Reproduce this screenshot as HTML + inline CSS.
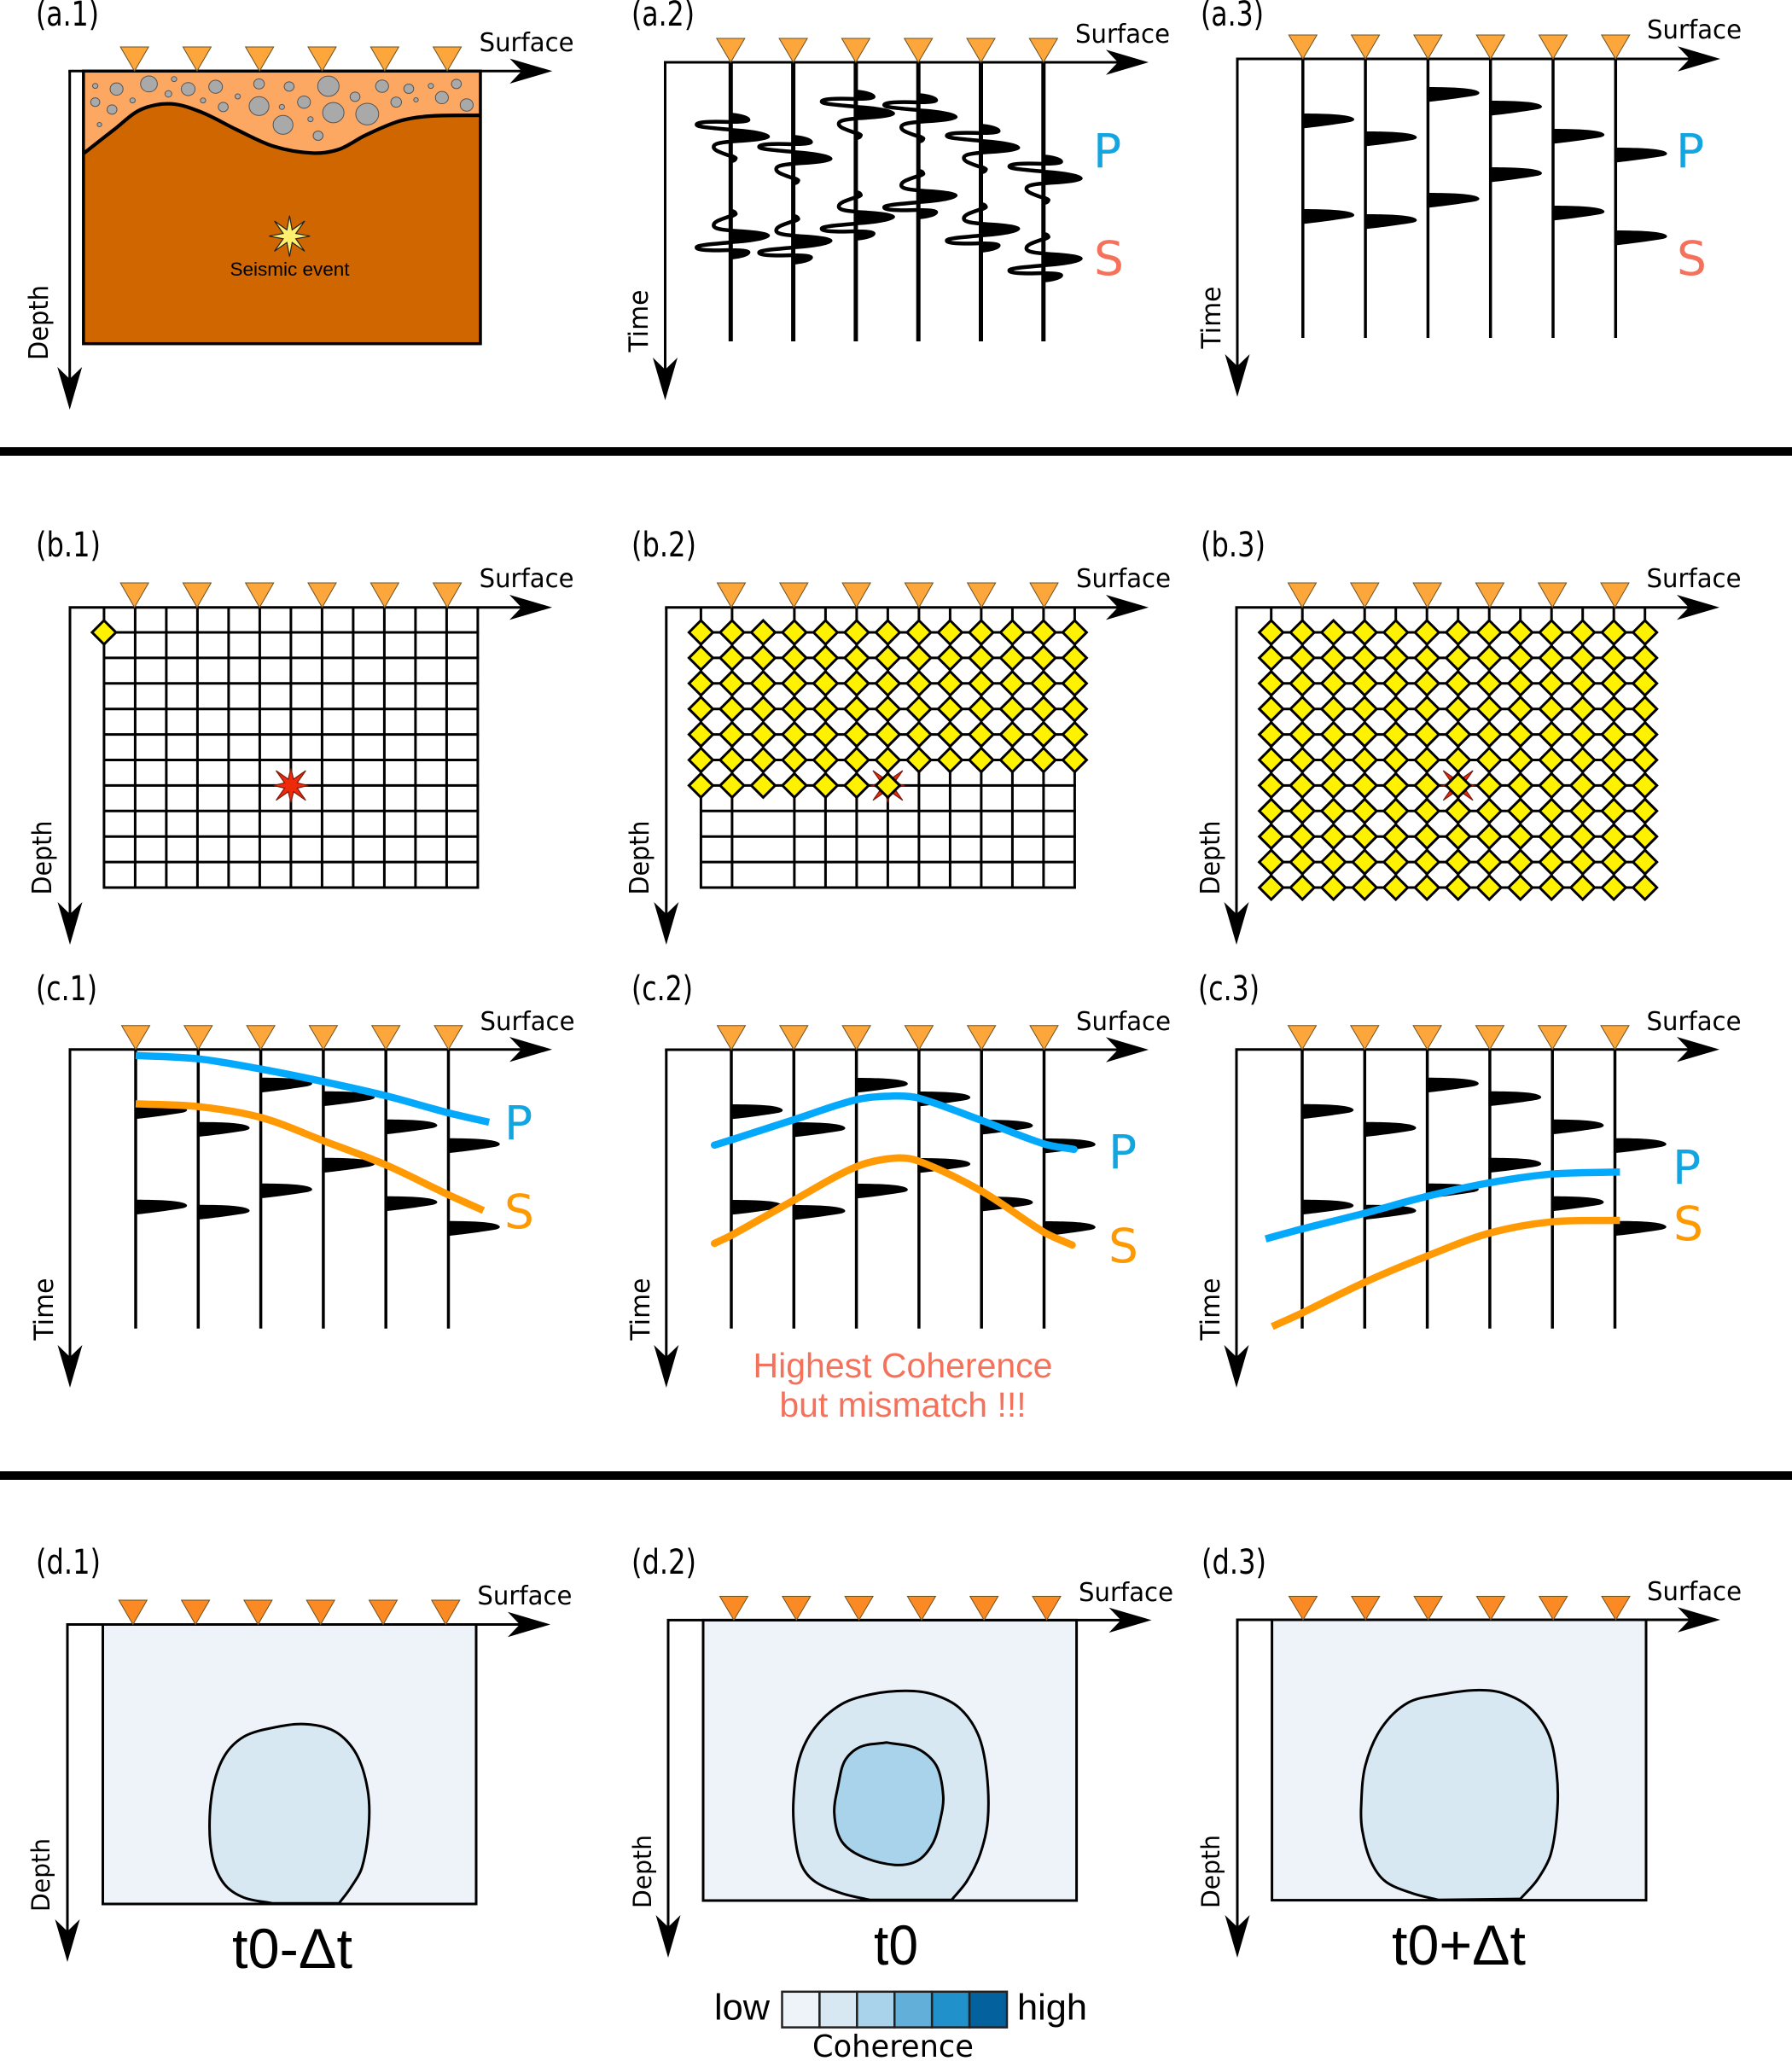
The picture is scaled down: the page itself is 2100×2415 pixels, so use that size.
<!DOCTYPE html>
<html lang="en">
<head>
<meta charset="utf-8">
<title>Seismic event location by coherence migration</title>
<style>
html,body{margin:0;padding:0;background:#fff;}
svg{display:block;}
.dv{font-family:"DejaVu Sans","Liberation Sans",sans-serif;fill:#000;}
.ls{font-family:"Liberation Sans",sans-serif;fill:#000;}
</style>
</head>
<body>
<svg id="figure" xmlns="http://www.w3.org/2000/svg" width="2100" height="2415" viewBox="0 0 2100 2415">
<rect x="0" y="0" width="2100" height="2415" fill="#ffffff"/>
<rect x="0" y="524" width="2100" height="10" fill="#000"/>
<rect x="0" y="1724" width="2100" height="10" fill="#000"/>
<g id="marks"></g>
<g>
<text class="dv" x="42" y="30" font-size="40" textLength="74" lengthAdjust="spacingAndGlyphs">(a.1)</text>
<text class="dv" x="740" y="30" font-size="40" textLength="74" lengthAdjust="spacingAndGlyphs">(a.2)</text>
<text class="dv" x="1407" y="30" font-size="40" textLength="74" lengthAdjust="spacingAndGlyphs">(a.3)</text>
<text class="dv" x="42" y="652" font-size="40" textLength="76" lengthAdjust="spacingAndGlyphs">(b.1)</text>
<text class="dv" x="740" y="652" font-size="40" textLength="76" lengthAdjust="spacingAndGlyphs">(b.2)</text>
<text class="dv" x="1407" y="652" font-size="40" textLength="76" lengthAdjust="spacingAndGlyphs">(b.3)</text>
<text class="dv" x="42" y="1172" font-size="40" textLength="72" lengthAdjust="spacingAndGlyphs">(c.1)</text>
<text class="dv" x="740" y="1172" font-size="40" textLength="72" lengthAdjust="spacingAndGlyphs">(c.2)</text>
<text class="dv" x="1404" y="1172" font-size="40" textLength="72" lengthAdjust="spacingAndGlyphs">(c.3)</text>
<text class="dv" x="42" y="1844" font-size="40" textLength="76" lengthAdjust="spacingAndGlyphs">(d.1)</text>
<text class="dv" x="740" y="1844" font-size="40" textLength="76" lengthAdjust="spacingAndGlyphs">(d.2)</text>
<text class="dv" x="1408" y="1844" font-size="40" textLength="76" lengthAdjust="spacingAndGlyphs">(d.3)</text>
</g>
<g>
<text class="dv" x="561.6" y="60" font-size="30" textLength="111" lengthAdjust="spacingAndGlyphs">Surface</text>
<text class="dv" x="1260" y="50" font-size="30" textLength="111" lengthAdjust="spacingAndGlyphs">Surface</text>
<text class="dv" x="1930" y="45" font-size="30" textLength="111" lengthAdjust="spacingAndGlyphs">Surface</text>
<text class="dv" x="561.6" y="688" font-size="30" textLength="111" lengthAdjust="spacingAndGlyphs">Surface</text>
<text class="dv" x="1261" y="688" font-size="30" textLength="111" lengthAdjust="spacingAndGlyphs">Surface</text>
<text class="dv" x="1929.5" y="688" font-size="30" textLength="111" lengthAdjust="spacingAndGlyphs">Surface</text>
<text class="dv" x="562.5" y="1207" font-size="30" textLength="111" lengthAdjust="spacingAndGlyphs">Surface</text>
<text class="dv" x="1261" y="1207" font-size="30" textLength="111" lengthAdjust="spacingAndGlyphs">Surface</text>
<text class="dv" x="1929.5" y="1207" font-size="30" textLength="111" lengthAdjust="spacingAndGlyphs">Surface</text>
<text class="dv" x="559.4" y="1880" font-size="30" textLength="111" lengthAdjust="spacingAndGlyphs">Surface</text>
<text class="dv" x="1264" y="1876" font-size="30" textLength="111" lengthAdjust="spacingAndGlyphs">Surface</text>
<text class="dv" x="1930" y="1875" font-size="30" textLength="111" lengthAdjust="spacingAndGlyphs">Surface</text>
</g>
<g text-anchor="middle">
<text class="dv" transform="translate(56,378) rotate(-90)" font-size="31" textLength="88" lengthAdjust="spacingAndGlyphs">Depth</text>
<text class="dv" transform="translate(759,376) rotate(-90)" font-size="31" textLength="73" lengthAdjust="spacingAndGlyphs">Time</text>
<text class="dv" transform="translate(1430,372) rotate(-90)" font-size="31" textLength="73" lengthAdjust="spacingAndGlyphs">Time</text>
<text class="dv" transform="translate(60,1005) rotate(-90)" font-size="31" textLength="87" lengthAdjust="spacingAndGlyphs">Depth</text>
<text class="dv" transform="translate(760,1005) rotate(-90)" font-size="31" textLength="87" lengthAdjust="spacingAndGlyphs">Depth</text>
<text class="dv" transform="translate(1429,1005) rotate(-90)" font-size="31" textLength="87" lengthAdjust="spacingAndGlyphs">Depth</text>
<text class="dv" transform="translate(62,1534) rotate(-90)" font-size="31" textLength="73" lengthAdjust="spacingAndGlyphs">Time</text>
<text class="dv" transform="translate(761,1534) rotate(-90)" font-size="31" textLength="73" lengthAdjust="spacingAndGlyphs">Time</text>
<text class="dv" transform="translate(1429,1534) rotate(-90)" font-size="31" textLength="73" lengthAdjust="spacingAndGlyphs">Time</text>
<text class="dv" transform="translate(58,2197) rotate(-90)" font-size="29" textLength="86" lengthAdjust="spacingAndGlyphs">Depth</text>
<text class="dv" transform="translate(763,2193) rotate(-90)" font-size="29" textLength="86" lengthAdjust="spacingAndGlyphs">Depth</text>
<text class="dv" transform="translate(1429,2193) rotate(-90)" font-size="29" textLength="86" lengthAdjust="spacingAndGlyphs">Depth</text>
</g>
<g>
<text class="dv" x="1281" y="196" font-size="55" style="fill:#12a5e0">P</text>
<text class="dv" x="1282" y="322" font-size="55" style="fill:#f4725b">S</text>
<text class="dv" x="1964" y="196" font-size="55" style="fill:#12a5e0">P</text>
<text class="dv" x="1965" y="322" font-size="55" style="fill:#f4725b">S</text>
<text class="dv" x="591" y="1335" font-size="55" style="fill:#12a5e0">P</text>
<text class="dv" x="591" y="1439" font-size="55" style="fill:#ff9900">S</text>
<text class="dv" x="1299" y="1369" font-size="55" style="fill:#12a5e0">P</text>
<text class="dv" x="1299" y="1479" font-size="55" style="fill:#ff9900">S</text>
<text class="dv" x="1960" y="1387" font-size="55" style="fill:#12a5e0">P</text>
<text class="dv" x="1961" y="1453" font-size="55" style="fill:#ff9900">S</text>
</g>
<text class="ls" x="339.5" y="323" font-size="22.5" text-anchor="middle">Seismic event</text>
<g text-anchor="middle">
<text class="ls" x="1058" y="1614" font-size="41" style="fill:#f4725b">Highest Coherence</text>
<text class="ls" x="1058" y="1660" font-size="41" style="fill:#f4725b">but mismatch !!!</text>
</g>
<g text-anchor="middle">
<text class="ls" x="342.5" y="2306" font-size="66" textLength="141" lengthAdjust="spacingAndGlyphs">t0-Δt</text>
<text class="ls" x="1050" y="2302" font-size="66" textLength="52" lengthAdjust="spacingAndGlyphs">t0</text>
<text class="ls" x="1709.5" y="2302" font-size="66" textLength="157" lengthAdjust="spacingAndGlyphs">t0+Δt</text>
</g>
<g>
<text class="ls" x="837" y="2366.5" font-size="43" textLength="65" lengthAdjust="spacingAndGlyphs">low</text>
<text class="ls" x="1192" y="2366.5" font-size="43" textLength="82" lengthAdjust="spacingAndGlyphs">high</text>
<text class="dv" x="952" y="2410" font-size="36" textLength="189" lengthAdjust="spacingAndGlyphs">Coherence</text>
</g>
</svg>
<script>
/* ---------- data ---------- */
const pArrival = [0.71, 0.92, 0.40, 0.56, 0.89, 1.11];
const sArrival = [1.83, 1.89, 1.64, 1.34, 1.79, 2.08];
const pArrivalWiggle = [0.87, 1.13, 0.60, 0.64, 1.00, 1.36];
const sArrivalWiggle = [2.03, 2.09, 1.81, 1.56, 1.95, 2.30];

const c1PTrace = [0, 1, 2, 3, 4, 5, 5.65];
const c1PTime = [0.07, 0.11, 0.23, 0.377, 0.543, 0.743, 0.853];
const c1STrace = [0, 1, 2, 3, 4, 5, 5.56];
const c1STime = [0.637, 0.67, 0.797, 1.07, 1.353, 1.703, 1.887];

const c2PTrace = [-0.27, 0, 1, 2, 2.6, 3, 4, 5, 5.48];
const c2PTime = [1.118, 1.057, 0.82, 0.586, 0.543, 0.568, 0.829, 1.104, 1.168];
const c2STrace = [-0.27, 0, 1, 2, 2.6, 3, 4, 5, 5.45];
const c2STime = [2.27, 2.175, 1.764, 1.371, 1.271, 1.307, 1.657, 2.139, 2.289];

const c3PTrace = [-0.585, 0, 0.994, 2, 2.99, 3.99, 4.99, 5.08];
const c3PTime = [2.22, 2.103, 1.92, 1.72, 1.563, 1.46, 1.437, 1.437];
const c3STrace = [-0.48, 0, 0.994, 2, 2.99, 3.99, 4.99, 5.08];
const c3STime = [3.247, 3.087, 2.73, 2.42, 2.153, 2.02, 2.003, 2.003];

/* schematic outlines, in picture units (distance, depth) */
const layerDistance = [219, 300, 370, 450, 530, 620, 720, 820, 890, 960, 1050, 1130, 1261];
const layerDepth = [540, 455, 385, 365, 395, 455, 515, 538, 525, 475, 425, 408, 405];

const stoneDistance = [250,306,391,457,442,494,566,680,759,862,1003,1073,1131,1198,250,294,348,533,624,586,680,740,798,932,1040,1092,1160,1225,261,743,815,875,964,835];
const stoneDepth = [302,313,295,278,330,313,305,295,304,303,303,312,302,295,359,385,353,353,339,376,373,376,359,340,359,351,343,369,438,439,419,396,401,477];
const stoneSize = [7,17,22,7,9,18,18,14,13,28,17,13,7,13,12,13,7,7,7,13,26,7,17,13,14,6,17,17,6,26,7,28,30,13];

const d1Distance = [715,640,590,560,550,560,590,640,710,800,880,935,965,968,950,920,890];
const d1Depth = [1105,1088,1050,980,880,760,670,615,590,578,600,665,770,880,1000,1060,1105];
const d2OuterDistance = [715,640,570,535,518,515,530,570,640,720,810,880,950,1000,1022,1025,1005,970,930];
const d2OuterDepth = [1095,1075,1040,990,900,800,680,590,520,490,480,490,530,610,720,860,960,1040,1095];
const d2InnerDistance = [760,690,650,632,622,640,690,780,840,880,900,908,890,840,760];
const d2InnerDepth = [632,645,685,760,840,920,965,992,980,930,860,790,700,650,632];
const d3Distance = [640,570,500,462,440,437,448,490,560,650,740,810,880,930,950,952,935,900,855];
const d3Depth = [1095,1075,1040,980,890,820,700,590,515,490,478,487,530,610,720,830,960,1035,1092];

const coherenceClasses = ['#eef3fa', '#d8e8f3', '#a8d3ea', '#62b0d9', '#2191cb', '#03619e'];

/* ---------- helpers ---------- */
const NS = 'http://www.w3.org/2000/svg';
const root = document.getElementById('marks');
function add(tag, attrs, parent) {
  const node = document.createElementNS(NS, tag);
  for (const k in attrs) node.setAttribute(k, attrs[k]);
  (parent || root).appendChild(node);
  return node;
}
/* chord-length parametrised cubic spline through the points */
function smooth(xs, ys) {
  const n = xs.length, t = [0];
  for (let i = 1; i < n; i++) t.push(t[i - 1] + Math.hypot(xs[i] - xs[i - 1], ys[i] - ys[i - 1]));
  const mx = [], my = [];
  for (let i = 0; i < n; i++) {
    const a = Math.max(i - 1, 0), b = Math.min(i + 1, n - 1);
    mx.push((xs[b] - xs[a]) / (t[b] - t[a]));
    my.push((ys[b] - ys[a]) / (t[b] - t[a]));
  }
  let d = 'M' + xs[0].toFixed(2) + ' ' + ys[0].toFixed(2);
  for (let i = 0; i < n - 1; i++) {
    const h = (t[i + 1] - t[i]) / 3;
    d += 'C' + (xs[i] + mx[i] * h).toFixed(2) + ' ' + (ys[i] + my[i] * h).toFixed(2) + ' ' +
         (xs[i + 1] - mx[i + 1] * h).toFixed(2) + ' ' + (ys[i + 1] - my[i + 1] * h).toFixed(2) + ' ' +
         xs[i + 1].toFixed(2) + ' ' + ys[i + 1].toFixed(2);
  }
  return d;
}
const TRACE_GAP = 73.3, TIME_SCALE = 100;
const xOfTrace = (p, i) => p.triX + i * TRACE_GAP;
const yOfTime = (p, t) => p.oy + t * TIME_SCALE;

function axes(p) {
  const g = add('g', {});
  
  
  const xl = add('line', {x1: p.ox - 1.5, y1: p.oy, x2: p.xtip - 25, y2: p.oy, stroke: '#000', 'stroke-width': 3}, g);
  
  
  const yl = add('line', {x1: p.ox, y1: p.oy, x2: p.ox, y2: p.ytip - 25, stroke: '#000', 'stroke-width': 3}, g);
  
  
  const xa = add('polygon', {points: [p.xtip, p.oy, p.xtip - 50, p.oy - 14.7, p.xtip - 36, p.oy, p.xtip - 50, p.oy + 14.7].join(' '), fill: '#000'}, g);
  
  
  const ya = add('polygon', {points: [p.ox, p.ytip, p.ox - 14.5, p.ytip - 50, p.ox, p.ytip - 36, p.ox + 14.5, p.ytip - 50].join(' '), fill: '#000'}, g);
  
  
}
function receivers(p) {
  for (let i = 0; i < 6; i++) {
    const x = xOfTrace(p, i);
    const t = add('polygon', {points: [x - 16.5, p.triTop, x + 16.5, p.triTop, x, p.oy].join(' '), fill: p.triFill, stroke: '#6b5020', 'stroke-width': 1});
    
    
  }
}
function traceLines(p, width) {
  for (let i = 0; i < 6; i++) {
    const x = xOfTrace(p, i);
    const l = add('line', {x1: x, y1: p.oy, x2: x, y2: p.traceEnd, stroke: '#000', 'stroke-width': width});
    
    
  }
}
function wavelets(p, arrivals, phase) {
  arrivals.forEach((t, i) => {
    const x = xOfTrace(p, i), y = yOfTime(p, t);
    const w = add('path', {d: 'M-1.5 -7C20 -7 45 -6.5 55 -3.5C62 -1.5 62 1.5 55 3C40 5.5 15 9 -1.5 10.5Z', fill: '#000', transform: 'translate(' + x + ' ' + y + ')'});
    
    
  });
}
function wiggles(p, arrivals, sign, phase) {
  arrivals.forEach((t, i) => {
    const g = add('g', {transform: 'translate(' + xOfTrace(p, i) + ' ' + yOfTime(p, t) + ') scale(1 ' + sign + ')'});
    
    
    const f = add('path', {d: 'M0 -28C12 -27 24 -24 23 -19C22 -15 10 -15 0 -15ZM0 -10C25 -8.5 46 -5 46 0C46 5 25 6.5 0 8ZM0 20C6 22 9 24 8 26C7 30 3 31 0 31Z', fill: '#000'}, g);
    
    
    const s = add('path', {d: 'M0 -17C-25 -18 -40 -17 -40 -14C-40 -11 -20 -10 0 -8M0 6C-15 7 -20 9 -20 12C-20 17 -10 19 0 23', fill: 'none', stroke: '#000', 'stroke-width': 4.5}, g);
    
    
  });
}
function moveout(p, traces, times, color, cap, phase) {
  const c = add('path', {d: smooth(traces.map(v => xOfTrace(p, v)), times.map(v => yOfTime(p, v))), fill: 'none', stroke: color, 'stroke-width': 8.5, 'stroke-linecap': cap});
  
  
}
function star(cx, cy, rCard, rDiag, rIn, fill, stroke, name) {
  const pts = [];
  for (let i = 0; i < 16; i++) {
    const a = i * Math.PI / 8;
    const r = i % 2 ? rIn : (i % 4 === 0 ? rCard : rDiag);
    pts.push((cx + r * Math.cos(a)).toFixed(1), (cy + r * Math.sin(a)).toFixed(1));
  }
  const s = add('polygon', {points: pts.join(' '), fill: fill, stroke: stroke, 'stroke-width': 1.2});
  
  
}

/* ---------- panel layout ---------- */
const a1 = {id: 'a1', ox: 81.7, oy: 83.3, xtip: 647.3, ytip: 480, triX: 157.6, triTop: 55, triFill: '#fca63c'};
const a2 = {id: 'a2', ox: 779.5, oy: 73, xtip: 1346, ytip: 469, triX: 856.3, triTop: 45, triFill: '#fca63c', traceEnd: 400};
const a3 = {id: 'a3', ox: 1450, oy: 69, xtip: 2016, ytip: 465, triX: 1526.8, triTop: 41, triFill: '#fca63c', traceEnd: 396};
const b1 = {id: 'b1', ox: 82, oy: 711.7, xtip: 647, ytip: 1107, triX: 157.6, triTop: 683, triFill: '#fca63c', gridX: 121.9};
const b2 = {id: 'b2', ox: 780.8, oy: 711.7, xtip: 1346, ytip: 1107, triX: 857, triTop: 683, triFill: '#fca63c', gridX: 821.4};
const b3 = {id: 'b3', ox: 1449, oy: 711.7, xtip: 2015, ytip: 1107, triX: 1526, triTop: 683, triFill: '#fca63c', gridX: 1489.7};
const c1 = {id: 'c1', ox: 82, oy: 1229.7, xtip: 647, ytip: 1626, triX: 159, triTop: 1201.7, triFill: '#fca63c', traceEnd: 1556.7};
const c2 = {id: 'c2', ox: 780.8, oy: 1230, xtip: 1346, ytip: 1626, triX: 857, triTop: 1201.7, triFill: '#fca63c', traceEnd: 1556.7};
const c3 = {id: 'c3', ox: 1449, oy: 1229.7, xtip: 2015, ytip: 1626, triX: 1526, triTop: 1201.7, triFill: '#fca63c', traceEnd: 1556.7};
const d1 = {id: 'd1', ox: 79, oy: 1903.5, xtip: 645, ytip: 2299, triX: 155.8, triTop: 1875, triFill: '#fb8a24', boxL: 120.5, boxR: 558, boxB: 2231, crop: 0};
const d2 = {id: 'd2', ox: 783, oy: 1898.4, xtip: 1349.5, ytip: 2294, triX: 860, triTop: 1870.5, triFill: '#fb8a24', boxL: 824, boxR: 1261.6, boxB: 2227, crop: 700};
const d3 = {id: 'd3', ox: 1450, oy: 1898, xtip: 2016, ytip: 2294, triX: 1527, triTop: 1870.5, triFill: '#fb8a24', boxL: 1490.6, boxR: 1929, boxB: 2226.6, crop: 1400};

/* ---------- a.1 geology ---------- */
const xGeo = v => v / 2.24, yGeo = v => v / 3;
const boxL = 97.8, boxR = 563, boxT = 83.3, boxB = 402.7;
const topLayer = add('rect', {x: boxL, y: boxT, width: boxR - boxL, height: boxB - boxT, fill: '#fda862'});


stoneDistance.forEach((v, i) => {
  const rock = add('ellipse', {cx: xGeo(v), cy: yGeo(stoneDepth[i]), rx: stoneSize[i] / 2.24, ry: stoneSize[i] / 2.24 * 0.95, fill: '#a9a9a9', stroke: '#555', 'stroke-width': 1});
  
  
});
const layerLine = smooth(layerDistance.map(xGeo), layerDepth.map(yGeo));
const bedrock = add('path', {d: layerLine + 'L' + boxR + ' ' + boxB + 'L' + boxL + ' ' + boxB + 'Z', fill: '#cf6600'});


const boundary = add('path', {d: layerLine, fill: 'none', stroke: '#000', 'stroke-width': 4.2});


const frame = add('rect', {x: boxL, y: boxT, width: boxR - boxL, height: boxB - boxT, fill: 'none', stroke: '#000', 'stroke-width': 3.5});


star(339.3, 276.7, 24, 25, 8, '#ffef6e', '#222', 'seismic-event-star');
axes(a1);
receivers(a1);

/* ---------- a.2 raw waveforms ---------- */
traceLines(a2, 5);
wiggles(a2, pArrivalWiggle, 1, 'p-phase');
wiggles(a2, sArrivalWiggle, -1, 's-phase');
axes(a2);
receivers(a2);

/* ---------- a.3 characteristic functions ---------- */
traceLines(a3, 3.5);
wavelets(a3, pArrival, 'p-phase');
wavelets(a3, sArrival, 's-phase');
axes(a3);
receivers(a3);

/* ---------- b grid search ---------- */
const COLS = 12, ROWS = 10, COL_GAP = 36.5, ROW_GAP = 29.9, ROW_START = 29.3;
const colX = (p, c) => p.gridX + c * COL_GAP;
const rowY = (p, r) => p.oy + ROW_START + r * ROW_GAP;
function grid(p, skipCol) {
  for (let c = 0; c <= COLS; c++) {
    if (c === skipCol) continue;
    const v = add('line', {x1: colX(p, c), y1: p.oy, x2: colX(p, c), y2: rowY(p, ROWS) + 1.4, stroke: '#000', 'stroke-width': 3});
    
    
  }
  for (let r = 0; r <= ROWS; r++) {
    const h = add('line', {x1: colX(p, 0) - 1.4, y1: rowY(p, r), x2: colX(p, COLS) + 1.4, y2: rowY(p, r), stroke: '#000', 'stroke-width': 3});
    
    
  }
}
function node(p, c, r) {
  const x = colX(p, c), y = rowY(p, r), s = 14;
  const d = add('polygon', {points: [x, y - s, x + s, y, x, y + s, x - s, y].join(' '), fill: '#fff200', stroke: '#000', 'stroke-width': 3});
  
  
}
grid(b1, -1);
star(colX(b1, 6), rowY(b1, 6), 20, 24.6, 8, '#ee2a0a', '#7a1a0a', 'true-event-star');
node(b1, 0, 0);
axes(b1);
receivers(b1);

grid(b2, 2);
star(colX(b2, 6), rowY(b2, 6), 20, 24.6, 8, '#ee2a0a', '#7a1a0a', 'true-event-star');
for (let r = 0; r < 6; r++) for (let c = 0; c <= COLS; c++) node(b2, c, r);
for (let c = 0; c <= 6; c++) node(b2, c, 6);
axes(b2);
receivers(b2);

grid(b3, 2);
star(colX(b3, 6), rowY(b3, 6), 20, 24.6, 8, '#ee2a0a', '#7a1a0a', 'true-event-star');
for (let r = 0; r <= ROWS; r++) for (let c = 0; c <= COLS; c++) node(b3, c, r);
axes(b3);
receivers(b3);

/* ---------- c stacking with moveout ---------- */
const BLUE = '#05a9fb', ORANGE = '#ff9a05';
[c1, c2, c3].forEach(p => {
  traceLines(p, 3.5);
  wavelets(p, pArrival, 'p-phase');
  wavelets(p, sArrival, 's-phase');
  axes(p);
  receivers(p);
});
moveout(c1, c1PTrace, c1PTime, BLUE, 'butt', 'p-phase');
moveout(c1, c1STrace, c1STime, ORANGE, 'butt', 's-phase');
moveout(c2, c2PTrace, c2PTime, BLUE, 'round', 'p-phase');
moveout(c2, c2STrace, c2STime, ORANGE, 'round', 's-phase');
moveout(c3, c3PTrace, c3PTime, BLUE, 'butt', 'p-phase');
moveout(c3, c3STrace, c3STime, ORANGE, 'butt', 's-phase');

/* ---------- d coherence slices ---------- */
function slice(p) {
  const b = add('rect', {x: p.boxL, y: p.oy, width: p.boxR - p.boxL, height: p.boxB - p.oy, fill: coherenceClasses[0], stroke: '#000', 'stroke-width': 3});
  
  
}
function contour(p, dist, depth, level, closedName) {
  const xs = dist.map(v => p.crop + v / 2.24), ys = depth.map(v => 1790 + v / 2.51);
  const c = add('path', {d: smooth(xs, ys) + 'Z', fill: coherenceClasses[level], stroke: '#000', 'stroke-width': 3, 'stroke-linejoin': 'round'});
  
  
}
slice(d1);
contour(d1, d1Distance, d1Depth, 1, 'coherence-contour-medium');
axes(d1);
receivers(d1);
slice(d2);
contour(d2, d2OuterDistance, d2OuterDepth, 1, 'coherence-contour-medium');
contour(d2, d2InnerDistance, d2InnerDepth, 2, 'coherence-contour-high');
axes(d2);
receivers(d2);
slice(d3);
contour(d3, d3Distance, d3Depth, 1, 'coherence-contour-medium');
axes(d3);
receivers(d3);

/* ---------- colour legend ---------- */
const legendX = 916.5, legendW = 263.5, legendY = 2333.8, legendH = 41.8;
coherenceClasses.forEach((color, i) => {
  const w = legendW / coherenceClasses.length;
  const cell = add('rect', {x: legendX + i * w, y: legendY, width: w, height: legendH, fill: color, stroke: '#222', 'stroke-width': 2.5});
  
  
});
</script>
</body>
</html>
